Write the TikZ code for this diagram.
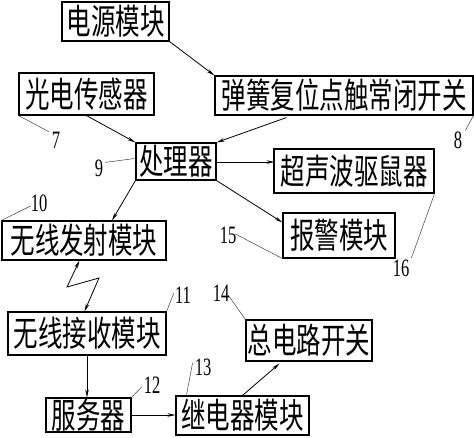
\documentclass[tikz,border=0pt]{standalone}
\usepackage{fontspec}
\newfontfamily\cjk[FakeStretch=0.70]{Noto Sans CJK SC}
\newfontfamily\numf[FakeStretch=0.66]{Liberation Serif}
\usetikzlibrary{arrows.meta,calc}
\begin{document}
\begin{tikzpicture}[x=1pt,y=-1pt,
 box/.style={draw,line width=1.1pt,inner sep=0pt,font=\cjk\fontsize{35}{35}\selectfont,anchor=center},
 arr/.style={-{Stealth[length=8pt,width=3.5pt]},line width=0.8pt},
 lead/.style={line width=0.5pt,draw=black!75},
 num/.style={font=\numf\fontsize{25}{25}\selectfont,inner sep=0pt,anchor=center}]
\useasboundingbox[fill=white] (0,0) rectangle (474,437);
% boxes
\node[box,minimum width=107pt,minimum height=39pt] (A) at (115.5,21.5) {电源模块};
\node[box,minimum width=258pt,minimum height=39pt] (B) at (344,95.5) {弹簧复位点触常闭开关};
\node[box,minimum width=135pt,minimum height=42pt] (C) at (86.5,94) {光电传感器};
\node[box,minimum width=80pt,minimum height=37pt] (D) at (176,161.5) {处理器};
\node[box,minimum width=160pt,minimum height=44pt] (E) at (354,171) {超声波驱鼠器};
\node[box,minimum width=164pt,minimum height=39pt] (F) at (84,240.5) {无线发射模块};
\node[box,minimum width=112pt,minimum height=45pt] (G) at (339,235.5) {报警模块};
\node[box,minimum width=158pt,minimum height=43pt] (H) at (87,333.5) {无线接收模块};
\node[box,minimum width=126pt,minimum height=41pt] (I) at (309,340.5) {总电路开关};
\node[box,minimum width=85pt,minimum height=34pt] (J) at (88.5,415) {服务器};
\node[box,minimum width=133pt,minimum height=39pt] (K) at (242.5,415.5) {继电器模块};
% connectors
\draw[arr] (A.south east) -- (B.north west);
\draw[arr] (C.south) -- (D.north west);
\draw[arr] ($(B.south west)+(72,2)$) -- (D.north east);
\draw[arr] ($(D.east)+(0,0.5)$) -- ($(D.east)+(58,0.5)$);
\draw[arr] (D.south west) -- ($(F.north)+(28,0)$);
\draw[arr] (D.south east) -- ($(G.north west)+(0,10)$);
\coordinate (z1) at (67,287);
\coordinate (z2) at (99,278);
\draw[arr,{Stealth[length=8pt,width=3.5pt]}-{Stealth[length=8pt,width=3.5pt]}] ($(F.south west)+(78,0)$) -- (z1) -- (z2) -- ($(H.north west)+(77,0)$);
\draw[arr] (H.south) -- (H.south |- J.north);
\draw[arr] (J.east) -- (J.east -| K.west);
\draw[arr] (K.north) -- ($(I.south west)+(34,2)$);
% leaders and numbers
\node[num] (n7) at (56,140) {7};
\draw[lead] (C.south west) -- ($(n7.north west)+(-3,0)$);
\node[num] (n8) at (458,140) {8};
\draw[lead] (B.south east) -- ($(n8.north east)+(3,-1)$);
\node[num] (n9) at (99,168) {9};
\draw[lead] ($(D.west)+(-1,-3)$) -- ($(n9.north east)+(2,3)$);
\node[num] (n10) at (39,203) {10};
\draw[lead] (F.north west) -- ($(n10.west)+(0,3)$);
\node[num] (n11) at (183,295) {11};
\draw[lead] (H.north east) -- ($(n11.west)+(-1,-2)$);
\node[num] (n12) at (152,385) {12};
\draw[lead] (J.north east) -- ($(n12.west)+(-2,2)$);
\node[num] (n13) at (203,367) {13};
\draw[lead] ($(K.north west)+(11,0)$) -- ($(n13.west)+(-2,-4)$);
\node[num] (n14) at (221,293.5) {14};
\draw[lead] (I.north west) -- ($(n14.east)+(-1,2)$);
\node[num] (n15) at (228,235) {15};
\draw[lead] (G.south west) -- ($(n15.east)+(-1,-1)$);
\node[num] (n16) at (401,268.5) {16};
\draw[lead] (E.south east) -- ($(n16.north east)+(2,-2)$);
\end{tikzpicture}
\end{document}
